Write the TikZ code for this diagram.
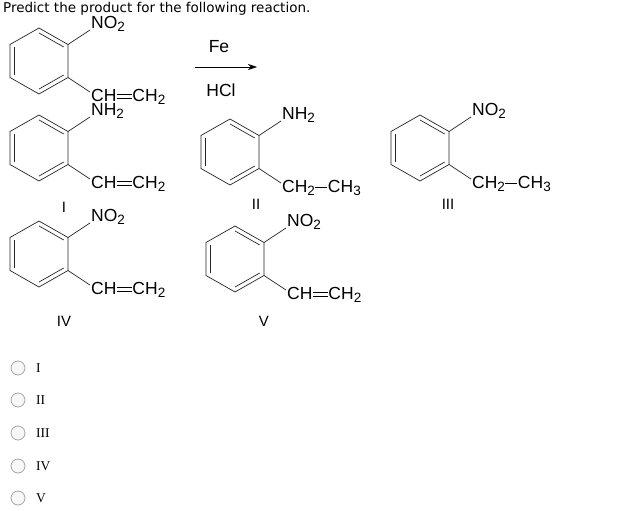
\documentclass[tikz,border=0pt]{standalone}
\usepackage{fontspec}
\setmainfont{Liberation Sans}
\newfontfamily\serifx{Liberation Serif}
\newfontfamily\titlefont{DejaVu Sans}
\usetikzlibrary{calc,arrows.meta}
\tikzset{bond/.style={line width=0.7pt,black!85},
 lab/.style={inner sep=0pt,font=\fontsize{17.5}{18}\selectfont},
 numlab/.style={inner sep=0pt,font=\fontsize{15}{16}\selectfont},
 radio/.style={circle,draw=black!35,fill=black!3,minimum size=14pt,inner sep=0pt,line width=0.8pt},
 optlab/.style={inner sep=0pt,anchor=west,font=\serifx\fontsize{13.5}{14}\selectfont}}
\newcommand\sub[1]{\raisebox{-0.35ex}{\fontsize{13.5}{14}\selectfont #1}}
\newcommand\dbl{\kern0.5pt\raisebox{0.32ex}{\rule{15pt}{0.6pt}}\kern-15pt\raisebox{0.72ex}{\rule{15pt}{0.6pt}}\kern0.5pt}
\newcommand\sgl{\kern0.5pt\raisebox{0.52ex}{\rule{12pt}{0.6pt}}\kern0.5pt}
\newcommand\benz[3]{%
 \coordinate (#1c) at (#2,#3);
 \coordinate (#1t) at (#2,#3-33);
 \coordinate (#1ur) at (#2+29,#3-16.5);
 \coordinate (#1lr) at (#2+29,#3+16.5);
 \coordinate (#1b) at (#2,#3+33);
 \coordinate (#1ll) at (#2-29,#3+16.5);
 \coordinate (#1ul) at (#2-29,#3-16.5);
 \draw[bond] (#1t)--(#1ur)--(#1lr)--(#1b)--(#1ll)--(#1ul)--cycle;
 \draw[bond] ($(#1c)!0.85!(#1ul)$)--($(#1c)!0.85!(#1ll)$);
 \draw[bond] ($(#1c)!0.85!(#1t)$)--($(#1c)!0.85!(#1ur)$);
 \draw[bond] ($(#1c)!0.85!(#1b)$)--($(#1c)!0.85!(#1lr)$);
 \coordinate (#1up) at (#2+51,#3-31);
 \coordinate (#1dn) at (#2+51,#3+31);
}
\begin{document}
\begin{tikzpicture}[x=1pt,y=-1pt]
\useasboundingbox[fill=white] (0,0) rectangle (635,511);
\node[anchor=west,inner sep=0pt,font=\titlefont\fontsize{13.5}{14}\selectfont] (title) at (3,9) {Predict the product for the following reaction.};
% reactant
\benz{r}{39}{61}
\node[lab,anchor=west] (rU) at ($(rup)+(1,-6)$) {NO\sub{2}};
\node[lab,anchor=west] (rD) at ($(rdn)+(1,5)$) {CH\dbl CH\sub{2}};
\draw[bond] (rur)--(rup); \draw[bond] (rlr)--(rdn);
% arrow
\coordinate (a1) at (195,67); \coordinate (a2) at (257,67);
\draw[line width=0.7pt,-{Stealth[length=9pt,width=6pt]}] (a1)--(a2);
\node[lab] (fe) at (219,47) {Fe};
\node[lab] (hcl) at (221,90) {HCl};
% I
\benz{p}{39}{148}
\node[lab,anchor=west] (pU) at ($(pup)+(1,-6)$) {NH\sub{2}};
\node[lab,anchor=west] (pD) at ($(pdn)+(1,5)$) {CH\dbl CH\sub{2}};
\draw[bond] (pur)--(pup); \draw[bond] (plr)--(pdn);
\node[numlab] (L1) at (64,207) {I};
% II
\benz{q}{230}{152}
\node[lab,anchor=west] (qU) at ($(qup)+(1,-6)$) {NH\sub{2}};
\node[lab,anchor=west] (qD) at ($(qdn)+(1,5)$) {CH\sub{2}\sgl CH\sub{3}};
\draw[bond] (qur)--(qup); \draw[bond] (qlr)--(qdn);
\node[numlab] (L2) at (256,204) {II};
% III
\benz{s}{420}{148}
\node[lab,anchor=west] (sU) at ($(sup)+(1,-6)$) {NO\sub{2}};
\node[lab,anchor=west] (sD) at ($(sdn)+(1,5)$) {CH\sub{2}\sgl CH\sub{3}};
\draw[bond] (sur)--(sup); \draw[bond] (slr)--(sdn);
\node[numlab] (L3) at (448,204) {III};
% IV
\benz{u}{39}{254}
\node[lab,anchor=west] (uU) at ($(uup)+(1,-6)$) {NO\sub{2}};
\node[lab,anchor=west] (uD) at ($(udn)+(1,5)$) {CH\dbl CH\sub{2}};
\draw[bond] (uur)--(uup); \draw[bond] (ulr)--(udn);
\node[numlab] (L4) at (64,321) {IV};
% V
\benz{v}{235}{259}
\node[lab,anchor=west] (vU) at ($(vup)+(1,-6)$) {NO\sub{2}};
\node[lab,anchor=west] (vD) at ($(vdn)+(1,5)$) {CH\dbl CH\sub{2}};
\draw[bond] (vur)--(vup); \draw[bond] (vlr)--(vdn);
\node[numlab] (L5) at (264,321) {V};
% options
\foreach \y/\t/\n in {368/I/1,400/II/2,433/III/3,466/IV/4,498/V/5}{
 \node[radio] (rb\n) at (18,\y) {};
 \node[optlab] (ol\n) at (36,\y) {\t};
}
\end{tikzpicture}
\end{document}
